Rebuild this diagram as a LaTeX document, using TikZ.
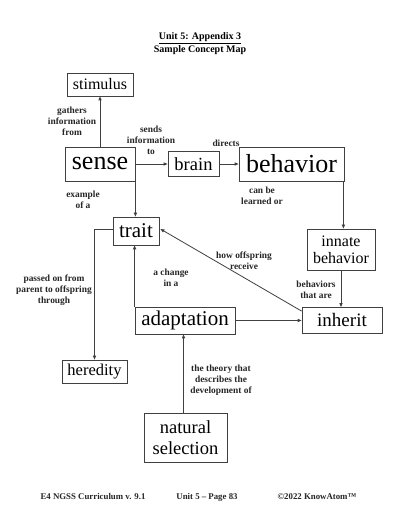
\documentclass[tikz,border=0pt]{standalone}
\usepackage{fontspec}
\setmainfont{Liberation Serif}
\usetikzlibrary{arrows.meta}
\newcommand{\fs}[2]{\fontsize{#1}{#2}\selectfont}
\tikzset{
  concept/.style={draw=black!75, line width=0.8pt, rectangle, inner sep=0pt, align=center, text=black},
  lbl/.style={inner sep=0pt, align=center, font=\bfseries\fs{9.4}{11}, text=black!85},
  arr/.style={draw=black!75, line width=0.8pt, -{Triangle[length=4pt,width=3.2pt]}},
  foot/.style={inner sep=0pt, font=\bfseries\fs{8.8}{11}, text=black!85}
}
\begin{document}
\begin{tikzpicture}[x=1pt,y=1pt]
\useasboundingbox[fill=white] (0,0) rectangle (402,525);
% title
\node[inner sep=0pt, font=\bfseries\fs{10}{12}] (t1) at (200,487) {\underline{Unit 5: Appendix 3}};
\node[inner sep=0pt, font=\bfseries\fs{10}{12}] (t2) at (200,475) {Sample Concept Map};
% boxes
\node[concept, minimum width=66, minimum height=23, font=\fs{16}{18}] (stimulus) at (100,440.5) {stimulus};
\node[concept, minimum width=70, minimum height=34, font=\fs{26}{28}] (sense) at (100,361) {sense};
\node[concept, minimum width=51, minimum height=25, font=\fs{18.5}{20}] (brain) at (193.5,361) {brain};
\node[concept, minimum width=105, minimum height=34, font=\fs{26}{28}] (behavior) at (291.5,361) {behavior};
\node[concept, minimum width=46, minimum height=28, font=\fs{21}{23}] (trait) at (136,294) {trait};
\node[concept, minimum width=68, minimum height=41, font=\fs{16}{17}] (innate) at (341,275.5) {innate\\behavior};
\node[concept, minimum width=100, minimum height=27, font=\fs{21}{23}] (adaptation) at (185,204.5) {adaptation};
\node[concept, minimum width=80, minimum height=26, font=\fs{19}{21}] (inherit) at (342,204.5) {inherit};
\node[concept, minimum width=65, minimum height=23, font=\fs{16.5}{18}] (heredity) at (94.5,153.5) {heredity};
\node[concept, minimum width=83, minimum height=49, font=\fs{18.5}{21}] (natural) at (185.5,87.5) {natural\\selection};
% connectors
\draw[arr] (sense.north) -- (stimulus.south);
\draw[arr] (sense.east) -- (sense.east -| brain.west);
\draw[arr] (brain.east) -- (brain.east -| behavior.west);
\draw[arr] (sense.south east) -- (sense.south east |- trait.north);
\draw[arr] ([xshift=-1]behavior.south east) -- ([xshift=-1]behavior.south east |- innate.north);
\draw[arr] (innate.south) -- (innate.south |- inherit.north);
\draw[arr] ([yshift=2]trait.west) -| (heredity.north);
\draw[arr] (adaptation.north west) -- (adaptation.north west |- trait.south);
\draw[arr] (adaptation.east) -- (adaptation.east -| inherit.west);
\draw[arr] ([yshift=-4]inherit.north west) -- ([xshift=1,yshift=2]trait.east);
\draw[arr] ([xshift=-2]natural.north) -- ([xshift=-2]natural.north |- adaptation.south);
% labels
\node[lbl] (l1) at (72,404) {gathers\\information\\from};
\node[lbl] (l2) at (151,385) {sends\\information\\to};
\node[lbl] (l3) at (226,382) {directs};
\node[lbl] (l4) at (262,329) {can be\\learned or};
\node[lbl] (l5) at (83,325) {example\\of a};
\node[lbl] (l6) at (54,235) {passed on from\\parent to offspring\\through};
\node[lbl] (l7) at (171,247.5) {a change\\in a};
\node[lbl] (l8) at (244,264.5) {how offspring\\receive};
\node[lbl] (l9) at (316,235.5) {behaviors\\that are};
\node[lbl] (l10) at (221,145) {the theory that\\describes the\\development of};
% footer
\node[foot] (f1) at (93,28) {E4 NGSS Curriculum v. 9.1};
\node[foot] (f2) at (207,28) {Unit 5 – Page 83};
\node[foot] (f3) at (317,28) {©2022 KnowAtom™};
\end{tikzpicture}
\end{document}
